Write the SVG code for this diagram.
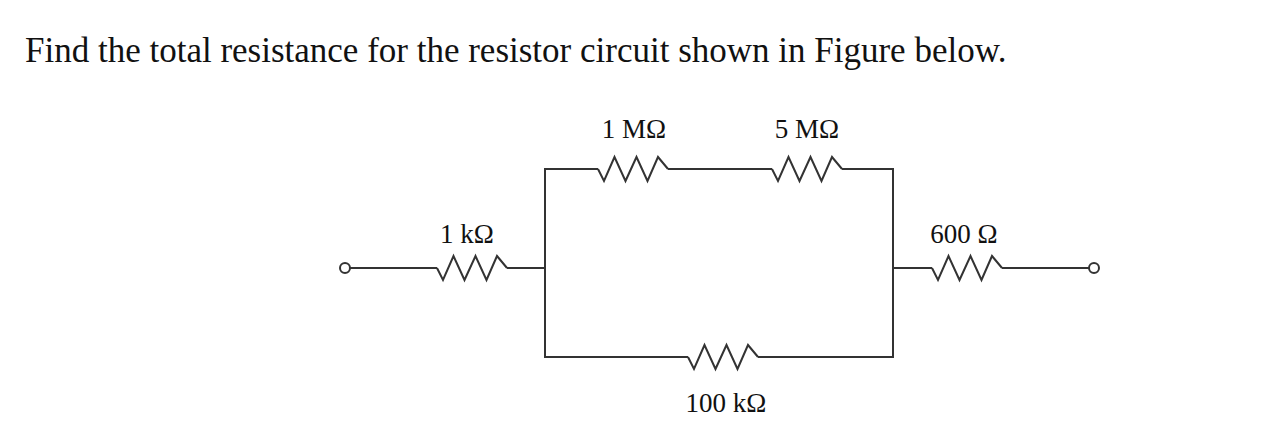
<svg xmlns="http://www.w3.org/2000/svg" width="1282" height="438" viewBox="0 0 1282 438">
<defs>
<style>
.w{fill:none;stroke:#333;stroke-width:2;stroke-linejoin:miter}
.t{font-family:"Liberation Serif",serif;fill:#111}
.l{font-size:27px;text-anchor:middle}
</style>
<path id="r" d="M0 0 L6 12 L16.5 -12 L27.5 12 L38.5 -12 L49.5 12 L60 -12 L70 0"/>
</defs>
<rect width="1282" height="438" fill="#fff"/>
<text class="t" x="25" y="62" font-size="35">Find the total resistance for the resistor circuit shown in Figure below.</text>
<g id="connectors" class="w">
<path d="M350 268 H437 M507 268 H545 V169 H598 M668 169 H772 M842 169 H893 V357 H758 M688 357 H545 V268 M893 268 H932 M1002 268 H1089"/>
</g>
<g id="term-left"><circle class="w" cx="345" cy="268" r="5"/></g>
<g id="term-right"><circle class="w" cx="1094" cy="268" r="5"/></g>
<g id="R1k"><use href="#r" class="w" x="437" y="268"/><text class="t l" x="467" y="243">1 kΩ</text></g>
<g id="R1M"><use href="#r" class="w" x="598" y="169"/><text class="t l" x="634" y="138">1 MΩ</text></g>
<g id="R5M"><use href="#r" class="w" x="772" y="169"/><text class="t l" x="807" y="138">5 MΩ</text></g>
<g id="R100k"><use href="#r" class="w" x="688" y="357"/><text class="t l" x="726" y="412">100 kΩ</text></g>
<g id="R600"><use href="#r" class="w" x="932" y="268"/><text class="t l" x="964" y="243">600 Ω</text></g>
</svg>
